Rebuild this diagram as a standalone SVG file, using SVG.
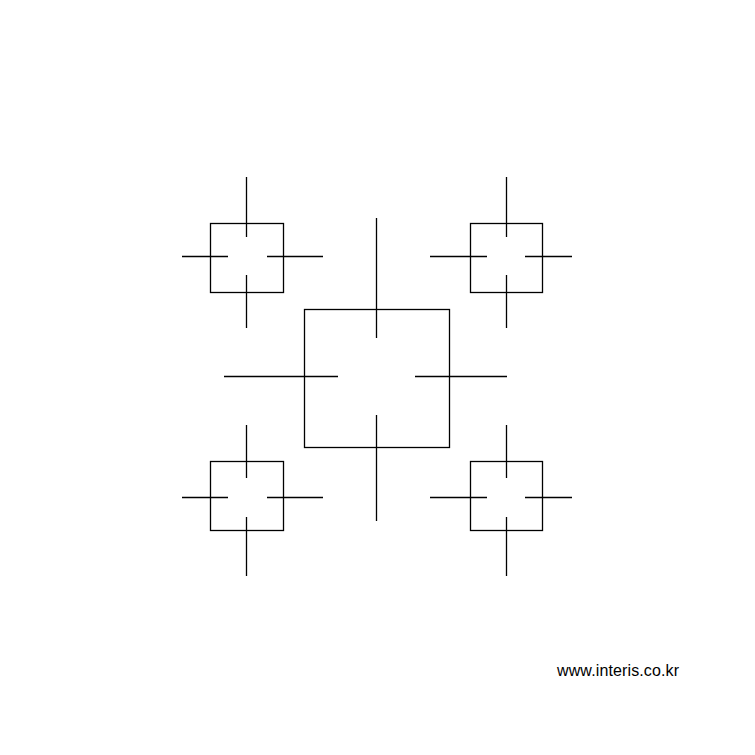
<svg xmlns="http://www.w3.org/2000/svg" width="755" height="755" viewBox="0 0 755 755">
<style>
.s{fill:none;stroke:#000;stroke-width:1.3}
.t{font-family:"Liberation Sans","DejaVu Sans",sans-serif;font-size:16px;fill:#000}
</style>
<rect width="755" height="755" fill="#fff"/>
<g id="center">
<rect class="s" x="304.5" y="309.5" width="145" height="138"/>
</g>
<g id="tl"><rect class="s" x="210.5" y="223.5" width="73" height="69"/></g>
<g id="tr"><rect class="s" x="470.5" y="223.5" width="72" height="69"/></g>
<g id="bl"><rect class="s" x="210.5" y="461.5" width="73" height="69"/></g>
<g id="br"><rect class="s" x="470.5" y="461.5" width="72" height="69"/></g>
<g id="connectors" class="s">
<path d="M376.5 218V338M376.5 415V521M224 376.5H338M415 376.5H507"/>
<path d="M246.5 177V237M246.5 275V328M182 256.5H228M267 256.5H323"/>
<path d="M506.5 177V237M506.5 275V328M430 256.5H487M525 256.5H572"/>
<path d="M246.5 425V478M246.5 517V576M182 497.5H228M267 497.5H323"/>
<path d="M506.5 425V478M506.5 517V576M430 497.5H487M525 497.5H572"/>
</g>
<text class="t" x="557" y="676" textLength="122">www.interis.co.kr</text>
</svg>
